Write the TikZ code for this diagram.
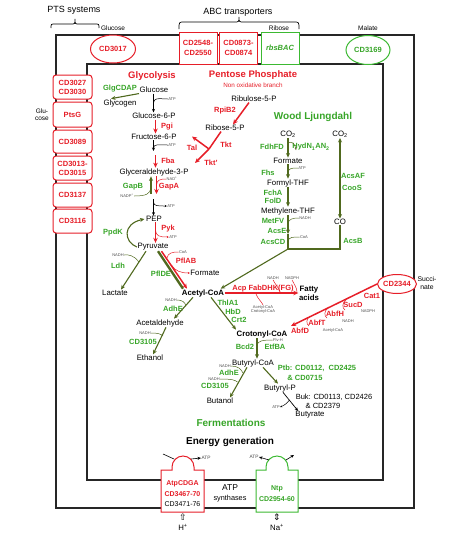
\documentclass[tikz,border=0pt]{standalone}
\usepackage{fontspec}
\setmainfont{Liberation Sans}
\newfontfamily\djv{DejaVu Sans}
\usetikzlibrary{arrows.meta,shapes.geometric}
\definecolor{rd}{RGB}{230,30,40}
\definecolor{gt}{RGB}{55,165,40}
\definecolor{ga}{RGB}{80,105,30}
\definecolor{gb}{RGB}{60,185,50}
\newcommand\myfs[2]{\fontsize{#1}{#2}\selectfont}
\begin{document}
\begin{tikzpicture}[x=1pt,y=-1pt,
  met/.style={font=\myfs{7.8}{8.5}, inner sep=0.5pt, align=center},
  bmet/.style={font=\myfs{7.8}{8.8}\bfseries, inner sep=0.5pt, align=center},
  er/.style={font=\myfs{7.5}{8.5}\bfseries, text=rd, inner sep=0.5pt, align=center},
  eg/.style={font=\myfs{7.5}{8.5}\bfseries, text=gt, inner sep=0.5pt, align=center},
  cof/.style={font=\myfs{4}{4.6}, text=black!70, inner sep=0.3pt, align=center},
  lbl/.style={font=\myfs{6.5}{7.5}, inner sep=0.5pt, align=center},
  ttl/.style={font=\myfs{9.5}{11}\bfseries, inner sep=0.5pt},
  ka/.style={draw=black, line width=0.7pt, -{Stealth[length=3.5pt,width=3pt]}},
  ra/.style={draw=rd, line width=1.5pt, -{Stealth[length=5pt,width=4.5pt]}},
  rl/.style={draw=rd, line width=1.5pt},
  gw/.style={draw=ga, line width=1.1pt, -{Stealth[length=4.5pt,width=4pt]}},
  gl/.style={draw=ga, line width=1.1pt},
  hk/.style={line width=0.5pt},
  hka/.style={line width=0.5pt, -{Stealth[length=2pt,width=2pt]}},
  memb/.style={draw=black!85, line width=1.1pt},
  tbox/.style={draw=rd, line width=1pt, fill=white, rounded corners=3pt, minimum width=39pt, align=center, font=\myfs{7.5}{9}\bfseries, text=rd, inner sep=0pt},
  abox/.style={draw=rd, line width=1pt, fill=white, minimum width=38pt, minimum height=32pt, align=center, font=\myfs{7.5}{9.5}\bfseries, text=rd, inner sep=0pt},
  ell/.style={ellipse, draw=rd, line width=1pt, fill=white, inner sep=0pt, font=\myfs{7.5}{9}\bfseries, text=rd}
]
\useasboundingbox (0,0) rectangle (474,542);
% membranes
\draw[memb] (56,35) rectangle (414,508);
\draw[memb] (87,64) rectangle (383,480);
% top labels and braces
\node[font=\myfs{9}{10}] (pts) at (74,10) {PTS systems};
\draw[line width=0.7pt] (51,28) .. controls (51,24) .. (55,24) -- (71,24) .. controls (75,24) .. (75,19) .. controls (75,24) .. (79,24) -- (95,24) .. controls (99,24) .. (99,28);
\node[font=\myfs{9}{10}] (abc) at (238,12) {ABC transporters};
\draw[line width=0.7pt] (179,29) .. controls (179,22) .. (184,22) -- (234,22) .. controls (239,22) .. (239,17) .. controls (239,22) .. (244,22) -- (294,22) .. controls (299,22) .. (299,29);
\node[lbl] (glcout) at (113,28) {Glucose};
\node[lbl] (ribout) at (279,28) {Ribose};
\node[lbl] (malout) at (368,28) {Malate};
\node[lbl] (glcl) at (42,114.5) {Glu-\\cose};
\node[lbl, font=\myfs{6.8}{8.5}] (succ) at (427,283) {Succi-\\nate};
% transporters
\node[ell, minimum width=45pt, minimum height=28pt] (cd3017) at (113,49) {CD3017};
\node[ell, draw=gb, text=gt, minimum width=44pt, minimum height=29pt] (cd3169) at (368,50) {CD3169};
\node[abox] (abc1) at (198,48) {CD2548-\\CD2550};
\node[abox] (abc2) at (238.5,48) {CD0873-\\CD0874};
\node[abox, draw=gb, text=gt, font=\myfs{7.5}{9.5}\bfseries\itshape] (rbs) at (280,48) {rbsBAC};
\node[tbox, minimum height=24pt] (pts1) at (72.5,87) {CD3027\\CD3030};
\node[tbox, minimum height=25pt] (ptsg) at (72.5,114.5) {PtsG};
\node[tbox, minimum height=23pt] (cd3089) at (72.5,141.5) {CD3089};
\node[tbox, minimum height=24pt] (cd3013) at (72.5,168) {CD3013-\\CD3015};
\node[tbox, minimum height=24pt] (cd3137) at (72.5,195) {CD3137};
\node[tbox, minimum height=24pt] (cd3116) at (72.5,221) {CD3116};
\node[ell, minimum width=37pt, minimum height=19pt] (cd2344) at (397,284) {CD2344};
% titles
\node[ttl, text=rd] (tglyc) at (152,76) {Glycolysis};
\node[ttl, text=rd] (tpp) at (253,75) {Pentose Phosphate};
\node[font=\myfs{6.3}{7}, text=rd] (tnon) at (253,85) {Non oxidative branch};
\node[ttl, text=gt, font=\myfs{10}{11}\bfseries] (twl) at (313,117) {Wood Ljungdahl};
\node[ttl, text=gt, font=\myfs{10}{11}\bfseries] (tferm) at (231,423) {Fermentations};
\node[ttl, font=\myfs{10}{11}\bfseries] (tener) at (230,442) {Energy generation};
% glycolysis
\node[met] (glc) at (154,90) {Glucose};
\node[eg] (glgc) at (120,89) {GlgCDAP};
\node[met] (glyc) at (120,103) {Glycogen};
\node[met] (g6p) at (154,116) {Glucose-6-P};
\node[er] (pgi) at (167,127) {Pgi};
\node[met] (f6p) at (154,137) {Fructose-6-P};
\node[er] (fba) at (168,161) {Fba};
\node[met] (gap) at (154,172) {Glyceraldehyde-3-P};
\node[er] (gapa) at (169,187) {GapA};
\node[eg] (gapb) at (133,187) {GapB};
\node[cof] (nad) at (172,179) {NAD\textsuperscript{+}};
\node[cof] (nadp) at (127,196) {NADP\textsuperscript{+}};
\node[met] (pep) at (154,219) {PEP};
\node[er] (pyk) at (168,229) {Pyk};
\node[met] (pyr) at (153,247) {Pyruvate};
\node[eg] (ppdk) at (113,233) {PpdK};
\node[eg] (ldh) at (118,266) {Ldh};
\node[cof] (nadhl) at (118,255) {NADH};
\node[met] (lac) at (115,293) {Lactate};
\node[er] (pflab) at (186,261) {PflAB};
\node[cof] (coapfl) at (183,252) {CoA};
\node[eg] (pflde) at (161,274) {PflDE};
\node[met] (fmt1) at (205,273) {Formate};
\node[bmet] (acoa) at (203,293) {Acetyl-CoA};
\node[cof] (atp1) at (172,99) {ATP};
\node[cof] (atp2) at (172,145) {ATP};
\node[cof] (atp3) at (171,206) {ATP};
\node[cof] (atp4) at (173,237) {ATP};
\coordinate (kx) at (153.5,0);
\coordinate (rx) at (155.5,0);
\coordinate (fm1) at (153.5,151);
\coordinate (fm2) at (155.5,155);
\coordinate (gm1) at (156.5,194);
\coordinate (gm2) at (151,194);
\coordinate (gm3) at (153.5,199);
\draw[ka] (glc.south -| kx) -- (g6p.north -| kx);
\draw[hk] (153.5,103) .. controls (154,98) and (157,98.5) .. (atp1.west);
\draw[ra] (g6p.south -| rx) -- (f6p.north -| rx);
\draw[ka] (f6p.south -| kx) -- (fm1);
\draw[hk] (153.5,148) .. controls (154,144) and (157,145) .. (atp2.west);
\draw[ra] (fm2) -- (gap.north -| rx);
\draw[ra, line width=1.3pt] (gap.south -| gm1) -- (gm1);
\draw[hk, draw=rd] (156.5,185) .. controls (157,180) and (160,179) .. (nad.west);
\draw[gw] (gm2) -- (gap.south -| gm2);
\draw[hk, draw=ga] (151,188) .. controls (150,194) and (146,196) .. (nadp.east);
\draw[ka] (gm3) -- (pep.north -| gm3);
\draw[hka] (153.5,202) .. controls (154,206) and (157,206) .. (atp3.west);
\draw[ra] (pep.south -| rx) -- (pyr.north -| rx);
\draw[hka, draw=rd] (155.5,230) .. controls (156,236) and (159,237) .. (atp4.west);
\draw[gw] (pyr.west) .. controls (124,242) and (122,224) .. ([xshift=-1pt]pep.west);
\draw[gw] ([xshift=-7pt]pyr.south) -- ([xshift=6pt]lac.north);
\draw[hk, draw=ga] (nadhl.east) .. controls (128,254) and (135,256) .. (139,262);
\draw[draw=ga, line width=2.4pt] ([xshift=5pt]pyr.south) -- ([xshift=-20pt]acoa.north);
\draw[ra] ([xshift=8.5pt]pyr.south) -- ([xshift=-16pt]acoa.north);
\draw[hk, draw=rd] (167,258) .. controls (168,253) and (172,252) .. (coapfl.west);
\draw[hka, draw=rd] (171.5,265) .. controls (175,271) and (181,273) .. (fmt1.west);
\draw[gw] (glc.south west) -- ([xshift=-9pt]glyc.north);
% pentose phosphate
\node[met] (ru5p) at (254,99) {Ribulose-5-P};
\node[er] (rpib) at (225,111) {RpiB2};
\node[met] (r5p) at (225,128) {Ribose-5-P};
\node[er] (tal) at (192,148) {Tal};
\node[er] (tkt) at (226,145) {Tkt};
\node[er] (tktp) at (211,163) {Tkt'};
\coordinate (tj) at (209,149);
\coordinate (talend) at (192,136.5);
\coordinate (tktend) at (195,163);
\draw[ra] ([xshift=-5pt]ru5p.south) -- ([xshift=8pt]r5p.north);
\draw[rl] ([xshift=-4pt]r5p.south) -- (tj);
\draw[ra] (tj) -- (talend);
\draw[ra] (tj) -- (tktend);
% Wood Ljungdahl
\node[met] (co2a) at (288,134) {CO\textsubscript{2}};
\node[met] (co2b) at (340,134) {CO\textsubscript{2}};
\node[eg] (fdh) at (272,147) {FdhFD};
\node[eg] (hyd) at (311,147) {HydN\textsubscript{1}AN\textsubscript{2}};
\node[met] (fmt2) at (288,161) {Formate};
\node[eg] (fhs) at (268,173) {Fhs};
\node[cof] (atpw) at (302,168) {ATP};
\node[met] (fthf) at (288,183) {Formyl-THF};
\node[eg] (fcha) at (273,193) {FchA};
\node[eg] (fold) at (273,201) {FolD};
\node[met] (mthf) at (288,211) {Methylene-THF};
\node[eg] (metfv) at (273,221) {MetFV};
\node[cof] (nadhw) at (305,218) {NADH};
\node[eg] (acse) at (277,231) {AcsE};
\node[eg] (acscd) at (273,242) {AcsCD};
\node[cof] (coaw) at (304,237) {CoA};
\node[eg] (acsaf) at (353,176) {AcsAF};
\node[eg] (coos) at (352,188) {CooS};
\node[met] (co) at (340,222) {CO};
\node[eg] (acsb) at (353,241) {AcsB};
\coordinate (wla) at (288,234);
\coordinate (wlj) at (288,249);
\draw[gw] (co2a.south) -- (fmt2.north);
\draw[hka, draw=ga] (288,143) .. controls (291,141) and (295,143) .. (296,150);
\draw[gw] (fmt2.south) -- (fthf.north);
\draw[hk, draw=ga] (288,172) .. controls (289,168) and (292,168) .. (atpw.west);
\draw[gw] (fthf.south) -- (mthf.north);
\draw[gw] (mthf.south) -- (wla);
\draw[hk, draw=ga] (288,223) .. controls (289,219) and (293,218) .. (nadhw.west);
\draw[hk, draw=ga] (288,241) .. controls (289,237) and (293,237) .. (coaw.west);
\draw[gl] (wla) -- (wlj) -- (co.south |- wlj) -- (co.south);
\draw[gw, {Stealth[length=4.5pt,width=4pt]}-{Stealth[length=4.5pt,width=4pt]}] (co2b.south) -- (co.north);
\draw[gw] (wlj) -- ([xshift=-4pt]acoa.north east);
% fatty acids
\node[er] (acp) at (263,289) {Acp FabDHK(FG)};
\node[bmet] (fa) at (309,293) {Fatty\\acids};
\node[cof] (nadhf) at (273,278) {NADH};
\node[cof] (nadphf) at (292,278) {NADPH};
\node[cof] (accr) at (263,309.5) {Acetyl-CoA\\Crotonyl-CoA};
\draw[ra] (acoa.east) -- (fa.west);
\draw[hk, draw=rd] (nadhf.south) .. controls (275,284) and (279,288) .. (280,292);
\draw[hk, draw=rd] (nadphf.south) .. controls (294,284) and (297,288) .. (297,292);
\draw[hk, draw=rd] (256,294) .. controls (258,299) and (261,301) .. (accr.north);
% ethanol
\node[eg] (adhe1) at (173,309) {AdhE};
\node[cof] (nadha) at (171,300) {NADH};
\node[met] (acald) at (160,323) {Acetaldehyde};
\node[eg] (cd3105a) at (143,342) {CD3105};
\node[cof] (nadhe) at (145,333) {NADH};
\node[met] (eth) at (150,358) {Ethanol};
\draw[gw] ([xshift=-10pt]acoa.south) -- ([xshift=14pt]acald.north);
\draw[hk, draw=ga] (nadha.east) .. controls (182,300) and (185,302) .. (186,306);
\draw[gw] ([xshift=6pt]acald.south) -- ([xshift=3pt]eth.north);
\draw[hk, draw=ga] (nadhe.east) .. controls (158,333) and (161,334) .. (163,336);
% butyrate / butanol
\node[eg] (thla) at (228,303) {ThlA1};
\node[eg] (hbd) at (233,312) {HbD};
\node[eg] (crt) at (239,320) {Crt2};
\node[bmet] (croto) at (262,334) {Crotonyl-CoA};
\node[eg] (bcd) at (245,347) {Bcd2};
\node[eg] (etf) at (275,347) {EtfBA};
\node[cof] (flv) at (278,340) {Flv-H};
\node[met] (bcoa) at (253,363) {Butyryl-CoA};
\node[eg] (adhe2) at (229,373) {AdhE};
\node[cof] (nadhb1) at (225,366) {NADH};
\node[eg] (cd3105b) at (215,386) {CD3105};
\node[cof] (nadhb2) at (214,379) {NADH};
\node[met] (butol) at (220,401) {Butanol};
\node[eg] (ptb) at (317,368) {Ptb: CD0112,\ \ CD2425};
\node[eg] (ptb2) at (305,378) {\& CD0715};
\node[met] (butp) at (280,388) {Butyryl-P};
\node[met, font=\myfs{7.5}{8.5}] (buk) at (334,397) {Buk: CD0113, CD2426};
\node[met, font=\myfs{7.5}{8.5}] (buk2) at (323,406) {\& CD2379};
\node[cof] (atpb) at (276,407) {ATP};
\node[met] (butr) at (310,415) {Butyrate};
\draw[gw] ([xshift=8pt]acoa.south) -- ([xshift=-26pt]croto.north);
\draw[gw] ([xshift=-5pt]croto.south) -- ([xshift=4pt]bcoa.north);
\draw[hk, draw=ga] (257,345) .. controls (258,341) and (262,340) .. (flv.west);
\draw[gw] ([xshift=-6pt]bcoa.south) -- ([xshift=10pt]butol.north);
\draw[hk, draw=ga] (nadhb1.east) .. controls (238,366) and (241,369) .. (243,373);
\draw[hk, draw=ga] (nadhb2.east) .. controls (232,379) and (235,380) .. (237.5,382);
\draw[gw] ([xshift=10pt]bcoa.south) -- ([xshift=-2pt]butp.north);
\draw[ka] ([xshift=3pt]butp.south) -- ([xshift=-12pt]butr.north);
\draw[hka] (289.5,400) .. controls (287,403) and (285,405) .. (atpb.east);
% succinate branch
\coordinate (crtip) at (291,326);
\draw[ra] (cd2344.west) -- (crtip);
\node[er] (cat1) at (372,296) {Cat1};
\node[er] (sucd) at (353,305) {SucD};
\node[er] (abfh) at (335,314) {AbfH};
\node[er] (abft) at (317,323) {AbfT};
\node[er] (abfd) at (300,331) {AbfD};
\node[cof] (nadphc) at (368,311) {NADPH};
\node[cof] (nadhc) at (348,321) {NADH};
\node[cof] (acc) at (333,330) {Acetyl-CoA};
\draw[hk, draw=rd] (346,300) .. controls (342,303) and (342,308) .. (345,310);
\draw[hk, draw=rd] (328,308) .. controls (324,311) and (324,316) .. (327,318);
\draw[hk, draw=rd] (310,316) .. controls (306,319) and (306,324) .. (309,326);
% ATP synthases
\draw[draw=rd, line width=1pt, fill=white] (161,512) -- (161,470) -- (172,470) -- (172,467) .. controls (172,461) and (177,456) .. (183,456) .. controls (189,456) and (194,461) .. (194,467) -- (194,470) -- (204,470) -- (204,512) -- cycle;
\draw[draw=gb, line width=1pt, fill=white] (256,512) -- (256,470) -- (266,470) -- (266,467) .. controls (266,461) and (271,456) .. (277,456) .. controls (283,456) and (288,461) .. (288,467) -- (288,470) -- (298,470) -- (298,512) -- cycle;
\node[er, font=\myfs{7}{8}\bfseries] (atpc) at (182.5,484) {AtpCDGA};
\node[er, font=\myfs{7}{8}\bfseries] (cd3467) at (182.5,494) {CD3467-70};
\node[met, font=\myfs{7}{8}] (cd3471) at (182.5,504) {CD3471-76};
\node[eg, font=\myfs{7}{8}\bfseries] (ntp) at (277,489) {Ntp};
\node[eg, font=\myfs{7}{8}\bfseries] (cd2954) at (277,499) {CD2954-60};
\node[font=\myfs{8.5}{9}, inner sep=0.5pt] (atps) at (230,488) {ATP};
\node[met, font=\myfs{7.3}{8}] (synth) at (230,499) {synthases};
\node[cof, font=\myfs{4.8}{5}] (atpd1) at (206,458) {ATP};
\node[cof, font=\myfs{4.8}{5}] (atpd2) at (254,457) {ATP};
\coordinate (d1a) at (163,454);
\coordinate (d1b) at (174,459);
\coordinate (d1c) at (191,459);
\coordinate (d2a) at (269,460);
\coordinate (d2b) at (286,460);
\coordinate (d2c) at (294,455);
\draw[line width=0.6pt] (d1a) -- (d1b);
\draw[ka, line width=0.6pt] (d1c) -- (atpd1.west);
\draw[ka, line width=0.6pt] (d2a) -- (atpd2.east);
\draw[ka, line width=0.6pt] (d2b) -- (d2c);
\node[font=\djv\myfs{9}{9}, inner sep=0pt] (harr) at (183,517) {⇧};
\node[met] (hp) at (183,527.5) {H\textsuperscript{+}};
\node[font=\djv\myfs{9}{9}, inner sep=0pt] (naarr) at (277,517) {⇕};
\node[met] (nap) at (277,527.5) {Na\textsuperscript{+}};
\end{tikzpicture}
\end{document}
